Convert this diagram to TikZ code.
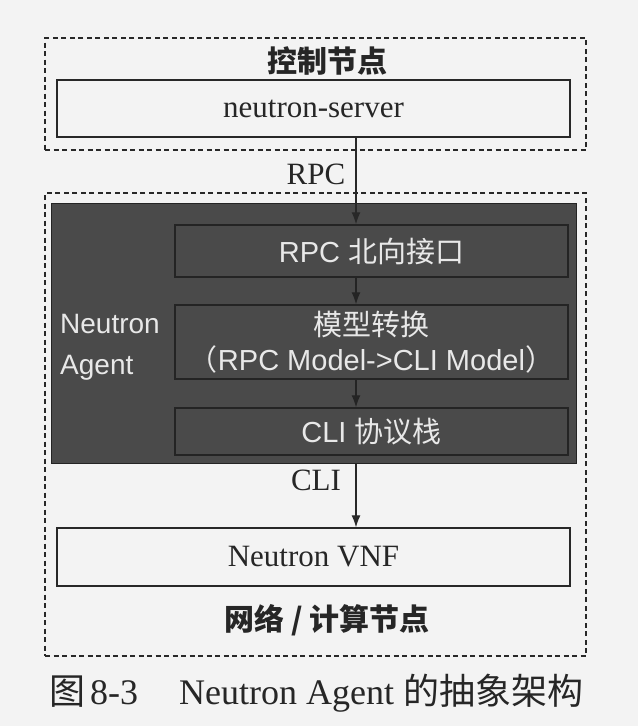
\documentclass[tikz,border=0pt]{standalone}
\usepackage{fontspec}
\setmainfont{Liberation Serif}
\newfontfamily\agentfont{Liberation Sans}
\newfontfamily\cjkfont{Noto Sans CJK SC}
\usetikzlibrary{arrows.meta}
\definecolor{paper}{RGB}{243,243,243}
\definecolor{agentgray}{RGB}{74,74,74}
\definecolor{layerline}{RGB}{36,36,36}
\definecolor{agenttext}{RGB}{232,232,232}
\definecolor{inkgray}{RGB}{40,40,40}
\newcommand{\axisx}{356}

\tikzset{
  dashbox/.style={draw=inkgray, line width=1.1pt, dash pattern=on 5pt off 3.5pt, minimum width=541pt, inner sep=0pt},
  plainbox/.style={draw=inkgray, line width=1.3pt, fill=paper, minimum width=513pt, inner sep=0pt, text=black!85, font=\fontsize{31}{33}\selectfont},
  agentbox/.style={draw=layerline, fill=agentgray, line width=1pt, minimum width=525pt, minimum height=260pt, inner sep=0pt},
  layerbox/.style={draw=layerline, line width=1.4pt, minimum width=393pt, inner sep=0pt, text=agenttext, align=center, font=\fontsize{29}{35}\selectfont\agentfont},
  flow/.style={draw=inkgray, line width=1.2pt, -{Latex[length=12pt,width=9pt]}},
  innerflow/.style={flow, draw=layerline},
  titletext/.style={inner sep=0pt, text=black!85, font=\fontsize{30}{32}\selectfont\cjkfont\bfseries},
  linklabel/.style={inner sep=0pt, text=black!85, font=\fontsize{31}{33}\selectfont},
}

\begin{document}
\begin{tikzpicture}[x=1pt, y=-1pt]

\fill[paper] (0,0) rectangle (638,726);
\useasboundingbox (0,0) rectangle (638,726);
\coordinate (axis) at (\axisx, 0);

% control node
\node[dashbox, minimum height=112pt] (ctrl) at (315.5, 94) {};
\node[titletext] (ctrltitle) at (327, 61) {控制节点};
\node[plainbox, minimum height=57pt] (server) at (313.5, 108.5) {neutron-server};

% network / compute node
\node[dashbox, minimum height=463pt] (compute) at (315.5, 424.5) {};
\node[agentbox] (agent) at (313.5, 333) {};
\node[inner sep=0pt, anchor=west, align=left, text=agenttext, font=\fontsize{28}{41}\selectfont\agentfont] (agentname) at (60, 347) {Neutron\\Agent};

\node[layerbox, minimum height=52pt] (rpcapi) at (371.5, 251) {RPC {\cjkfont 北向接口}};
\node[layerbox, minimum height=74pt] (model) at (371.5, 342) {{\cjkfont 模型转换}\\{\cjkfont （}RPC Model->CLI Model{\cjkfont ）}};
\node[layerbox, minimum height=47pt] (clistack) at (371.5, 431.5) {CLI {\cjkfont 协议栈}};

\node[plainbox, minimum height=58pt] (vnf) at (313.5, 557) {Neutron VNF};
\node[titletext] (computetitle) at (327, 620) {网络 / 计算节点};

% links
\draw[flow] (server.south -| axis) -- (rpcapi.north -| axis);
\node[linklabel] (rpclabel) at (316, 174) {RPC};
\draw[innerflow] (rpcapi.south -| axis) -- (model.north -| axis);
\draw[innerflow] (model.south -| axis) -- (clistack.north -| axis);
\draw[flow] (agent.south -| axis) -- (vnf.north -| axis);
\node[linklabel] (clilabel) at (316, 480) {CLI};

% caption
\node[inner sep=0pt, anchor=west, text=black!85, font=\fontsize{36}{38}\selectfont] (caption) at (49, 693) {{\cjkfont 图}\hspace{5pt}8-3\hspace{41pt}Neutron Agent {\cjkfont 的抽象架构}};

\end{tikzpicture}
\end{document}
